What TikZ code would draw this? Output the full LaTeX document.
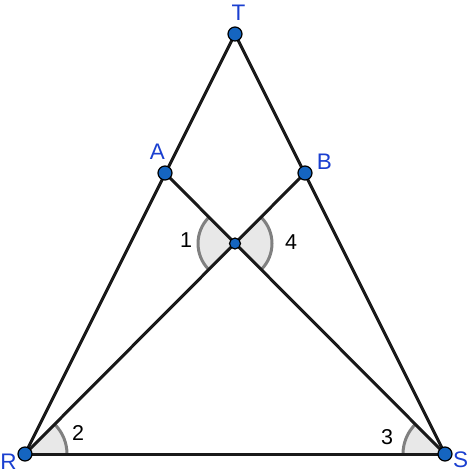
\documentclass[tikz,border=0pt]{standalone}
\usepackage{fontspec}
\setmainfont{Liberation Sans}
\definecolor{ptblue}{HTML}{1565C0}
\definecolor{lblblue}{HTML}{1A3FD0}
\begin{document}
\begin{tikzpicture}[x=1pt,y=-1pt,
  seg/.style={line width=3pt,black!90},
  angfill/.style={fill=black!9},
  angarc/.style={draw=black!50,line width=3pt},
  pt/.style={circle,fill=ptblue,draw=black,line width=1.2pt,inner sep=0pt,minimum size=14pt},
  smallpt/.style={circle,fill=ptblue,draw=black,line width=1.2pt,inner sep=0pt,minimum size=11pt},
  lbl/.style={text=lblblue,font=\fontsize{22.5}{22.5}\selectfont,inner sep=0pt},
  num/.style={text=black,font=\fontsize{21.5}{21.5}\selectfont,inner sep=0pt}]
\useasboundingbox (0,0) rectangle (474,474);
\coordinate (T) at (235,34);
\coordinate (R) at (25,454);
\coordinate (S) at (445,454);
\coordinate (A) at (165,173);
\coordinate (B) at (305,173);
\coordinate (O) at (235,243.5);
% angle fills
\fill[angfill] (O) -- ++(-135:37) arc[start angle=-135,end angle=-225,radius=37] -- cycle;
\fill[angfill] (O) -- ++(45:37) arc[start angle=45,end angle=-45,radius=37] -- cycle;
\fill[angfill] (R) -- ++(0:42) arc[start angle=0,end angle=-45,radius=42] -- cycle;
\fill[angfill] (S) -- ++(180:42) arc[start angle=180,end angle=225,radius=42] -- cycle;
\draw[angarc] (O) ++(-135:37) arc[start angle=-135,end angle=-225,radius=37];
\draw[angarc] (O) ++(45:37) arc[start angle=45,end angle=-45,radius=37];
\draw[angarc] (R) ++(0:42) arc[start angle=0,end angle=-45,radius=42];
\draw[angarc] (S) ++(180:42) arc[start angle=180,end angle=225,radius=42];
% segments
\draw[seg] (T) -- (R);
\draw[seg] (T) -- (S);
\draw[seg] (R) -- (S);
\draw[seg] (A) -- (S);
\draw[seg] (B) -- (R);
% points
\node[pt] (nT) at (T) {};
\node[pt] (nR) at (R) {};
\node[pt] (nS) at (S) {};
\node[pt] (nA) at (A) {};
\node[pt] (nB) at (B) {};
\node[smallpt] (nO) at (O) {};
% labels
\node[lbl] (lT) at (238.5,12.5) {T};
\node[lbl] (lA) at (157.5,152) {A};
\node[lbl] (lB) at (324.5,162) {B};
\node[lbl] (lR) at (8.5,461.5) {R};
\node[lbl] (lS) at (460.5,460) {S};
\node[num] (n1) at (186,240.5) {1};
\node[num] (n4) at (291,242) {4};
\node[num] (n2) at (78,433) {2};
\node[num] (n3) at (387,437) {3};
\end{tikzpicture}
\end{document}
